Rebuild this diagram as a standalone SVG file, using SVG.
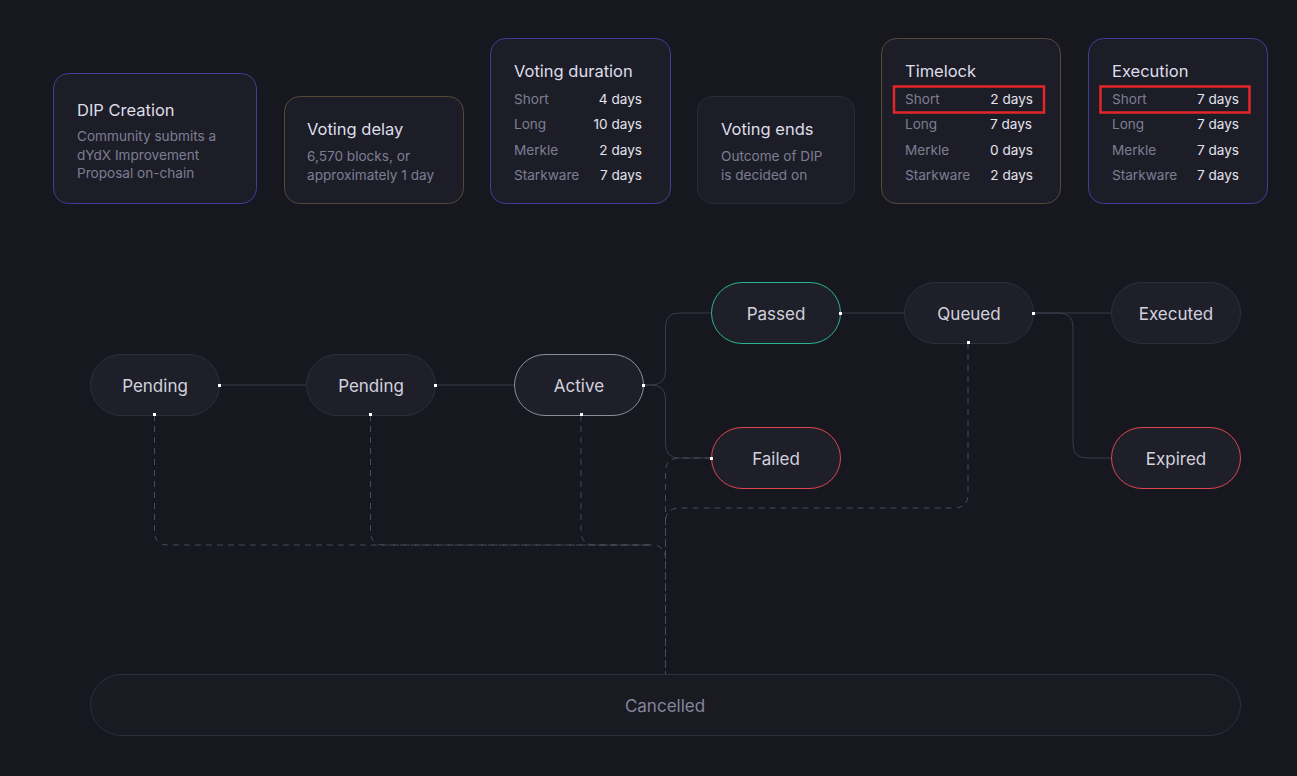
<svg xmlns="http://www.w3.org/2000/svg" width="1297" height="776" viewBox="0 0 1297 776">
<style>
  .card { fill: #1d1d28; stroke-width: 1; }
  .purple { stroke: #433d96; }
  .brown { stroke: #57493a; }
  .grey { stroke: #2b2b38; }
  .title { font-family: Inter, "Liberation Sans", sans-serif; font-size: 16.5px; fill: #dedee8; }
  .sub { font-family: Inter, "Liberation Sans", sans-serif; font-size: 13.6px; fill: #7d7d92; }
  .val { font-family: Inter, "Liberation Sans", sans-serif; font-size: 13.6px; fill: #e4e4ec; text-anchor: end; }
  .pill { fill: #1f1f2a; stroke: #2e2e3c; stroke-width: 1; }
  .lbl { font-family: Inter, "Liberation Sans", sans-serif; font-size: 17px; fill: #d2d2de; text-anchor: middle; }
  .edge { fill: none; stroke: #3b3b4a; stroke-width: 1; }
  .dash { fill: none; stroke: #4a4a5a; stroke-width: 1; stroke-dasharray: 6 5; }
  .dot { fill: #ffffff; }
  .hl { fill: none; stroke: #e3262a; stroke-width: 2.5; }
</style>
<rect width="1297" height="776" fill="#17171f"/>

<g id="card-dip-creation">
  <rect class="card purple" x="53.5" y="73.5" width="203" height="130" rx="15"/>
  <text class="title" x="77" y="116">DIP Creation</text>
  <text class="sub" x="77" y="141">Community submits a</text>
  <text class="sub" x="77" y="159.5">dYdX Improvement</text>
  <text class="sub" x="77" y="178">Proposal on-chain</text>
</g>
<g id="card-voting-delay">
  <rect class="card brown" x="284.5" y="96.5" width="179" height="107" rx="15"/>
  <text class="title" x="307" y="135">Voting delay</text>
  <text class="sub" x="307" y="161">6,570 blocks, or</text>
  <text class="sub" x="307" y="180">approximately 1 day</text>
</g>
<g id="card-voting-duration">
  <rect class="card purple" x="490.5" y="38.5" width="180" height="165" rx="15"/>
  <text class="title" x="514" y="77">Voting duration</text>
  <text class="sub" x="514" y="103.5">Short</text><text class="val" x="642" y="103.5">4 days</text>
  <text class="sub" x="514" y="129">Long</text><text class="val" x="642" y="129">10 days</text>
  <text class="sub" x="514" y="154.5">Merkle</text><text class="val" x="642" y="154.5">2 days</text>
  <text class="sub" x="514" y="180">Starkware</text><text class="val" x="642" y="180">7 days</text>
</g>
<g id="card-voting-ends">
  <rect class="card grey" x="697.5" y="96.5" width="157" height="107" rx="15"/>
  <text class="title" x="721" y="135">Voting ends</text>
  <text class="sub" x="721" y="161">Outcome of DIP</text>
  <text class="sub" x="721" y="180">is decided on</text>
</g>
<g id="card-timelock">
  <rect class="card brown" x="881.5" y="38.5" width="179" height="165" rx="15"/>
  <text class="title" x="905" y="77">Timelock</text>
  <text class="sub" x="905" y="103.5">Short</text><text class="val" x="1033" y="103.5">2 days</text>
  <text class="sub" x="905" y="129">Long</text><text class="val" x="1032" y="129">7 days</text>
  <text class="sub" x="905" y="154.5">Merkle</text><text class="val" x="1033" y="154.5">0 days</text>
  <text class="sub" x="905" y="180">Starkware</text><text class="val" x="1033" y="180">2 days</text>
  <rect class="hl" x="894" y="86.5" width="150" height="26"/>
</g>
<g id="card-execution">
  <rect class="card purple" x="1088.5" y="38.5" width="179" height="165" rx="15"/>
  <text class="title" x="1112" y="77">Execution</text>
  <text class="sub" x="1112" y="103.5">Short</text><text class="val" x="1239" y="103.5">7 days</text>
  <text class="sub" x="1112" y="129">Long</text><text class="val" x="1239" y="129">7 days</text>
  <text class="sub" x="1112" y="154.5">Merkle</text><text class="val" x="1239" y="154.5">7 days</text>
  <text class="sub" x="1112" y="180">Starkware</text><text class="val" x="1239" y="180">7 days</text>
  <rect class="hl" x="1100.5" y="86.5" width="149" height="26"/>
</g>

<g id="connectors">
  <path class="edge" d="M219,385 H306"/>
  <path class="edge" d="M435,385 H514"/>
  <path class="edge" d="M643,385 H651 Q665.5,385 665.5,371 V327 Q665.5,313 679,313 H711"/>
  <path class="edge" d="M643,385 H651 Q665.5,385 665.5,399 V444 Q665.5,458 679,458 H711"/>
  <path class="edge" d="M840,313 H904"/>
  <path class="edge" d="M1033,313 H1111"/>
  <path class="edge" d="M1033,313 H1059 Q1073,313 1073,327 V444 Q1073,458 1087,458 H1111"/>
  <path class="dash" d="M154.5,415 V531 Q154.5,545 168,545 H651 Q665.5,545 665.5,559"/>
  <path class="dash" d="M370.5,415 V531 Q370.5,545 384,545 H651"/>
  <path class="dash" d="M581,415 V531 Q581,545 595,545 H651"/>
  <path class="dash" d="M968,343 V494 Q968,508 954,508 H680 Q665.5,508 665.5,522"/>
  <path class="dash" d="M711,458 H680 Q665.5,458 665.5,472 V674"/>
  <path class="dash" d="M665.5,522 V674" style="stroke-dashoffset:3"/>
</g>

<g id="node-pending-1">
  <rect class="pill" x="90.5" y="354.5" width="129" height="61" rx="30.5"/>
  <text class="lbl" x="155" y="392">Pending</text>
</g>
<g id="node-pending-2">
  <rect class="pill" x="306.5" y="354.5" width="129" height="61" rx="30.5"/>
  <text class="lbl" x="371" y="392">Pending</text>
</g>
<g id="node-active">
  <rect class="pill" x="514.5" y="354.5" width="129" height="61" rx="30.5" style="stroke:#8c8c9c"/>
  <text class="lbl" x="579" y="392">Active</text>
</g>
<g id="node-passed">
  <rect class="pill" x="711.5" y="282.5" width="129" height="61" rx="30.5" style="stroke:#2bb487"/>
  <text class="lbl" x="776" y="320">Passed</text>
</g>
<g id="node-failed">
  <rect class="pill" x="711.5" y="427.5" width="129" height="61" rx="30.5" style="stroke:#e0454e"/>
  <text class="lbl" x="776" y="465">Failed</text>
</g>
<g id="node-queued">
  <rect class="pill" x="904.5" y="282.5" width="129" height="61" rx="30.5"/>
  <text class="lbl" x="969" y="320">Queued</text>
</g>
<g id="node-executed">
  <rect class="pill" x="1111.5" y="282.5" width="129" height="61" rx="30.5"/>
  <text class="lbl" x="1176" y="320">Executed</text>
</g>
<g id="node-expired">
  <rect class="pill" x="1111.5" y="427.5" width="129" height="61" rx="30.5" style="stroke:#e0454e"/>
  <text class="lbl" x="1176" y="465">Expired</text>
</g>
<g id="node-cancelled">
  <rect class="pill" x="90.5" y="674.5" width="1150" height="61" rx="30.5" style="fill:#1a1a23"/>
  <text class="lbl" x="665" y="712" style="fill:#85859a">Cancelled</text>
</g>

<g id="handles">
  <rect class="dot" x="218" y="384" width="3" height="3"/>
  <rect class="dot" x="153" y="413" width="3" height="3"/>
  <rect class="dot" x="434" y="384" width="3" height="3"/>
  <rect class="dot" x="369" y="413" width="3" height="3"/>
  <rect class="dot" x="642" y="384" width="3" height="3"/>
  <rect class="dot" x="580" y="413" width="3" height="3"/>
  <rect class="dot" x="839" y="312" width="3" height="3"/>
  <rect class="dot" x="710" y="457" width="3" height="3"/>
  <rect class="dot" x="1032" y="312" width="3" height="3"/>
  <rect class="dot" x="967" y="341" width="3" height="3"/>
</g>
</svg>
